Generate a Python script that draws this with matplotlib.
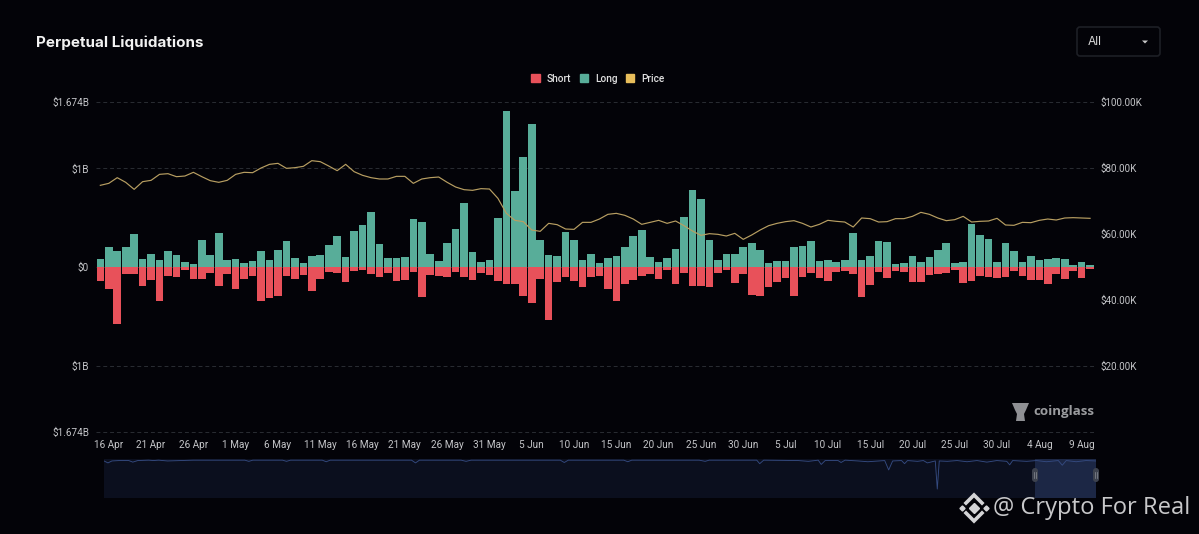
import matplotlib
matplotlib.use("Agg")
import matplotlib.pyplot as plt
from matplotlib.patches import FancyBboxPatch, Polygon, Rectangle, Patch
import numpy as np

# Daily values from 15 Apr to 10 Aug, $B
long_liq = [.077,.205,.165,.205,.337,.084,.128,.074,.158,.118,.051,.030,.279,.125,.343,.067,.081,.037,.057,.165,
            .071,.172,.266,.088,.044,.114,.118,.226,.310,.098,.370,.424,.562,.229,.094,.088,.098,.492,.455,.135,
            .057,.239,.384,.653,.152,.051,.074,.502,1.586,.768,1.121,1.455,.269,.121,.114,.354,.276,.067,.131,.040,
            .088,.114,.199,.310,.374,.098,.051,.091,.185,.508,.781,.694,.273,.067,.135,.128,.199,.246,.175,.044,
            .057,.057,.199,.209,.259,.061,.067,.047,.071,.340,.067,.114,.263,.256,.027,.037,.114,.047,.104,.172,
            .239,.040,.051,.441,.323,.286,.047,.242,.158,.051,.111,.067,.084,.088,.077,.017,.051,.024]
short_liq = [.145,.226,.582,.074,.074,.195,.135,.340,.088,.104,.030,.121,.118,.061,.195,.071,.219,.118,.091,.343,
             .316,.293,.094,.125,.084,.239,.118,.047,.064,.155,.044,.027,.067,.098,.061,.145,.131,.054,.306,.077,
             .088,.101,.054,.104,.128,.061,.077,.145,.168,.168,.296,.370,.125,.539,.148,.101,.138,.199,.101,.088,
             .222,.347,.175,.128,.094,.067,.121,.034,.175,.064,.192,.195,.205,.057,.034,.162,.067,.279,.296,.205,
             .148,.108,.296,.098,.061,.111,.145,.051,.044,.067,.303,.185,.051,.114,.044,.047,.155,.155,.084,.067,
             .064,.034,.162,.145,.088,.101,.111,.104,.037,.091,.128,.135,.168,.067,.118,.044,.114,.024]
# Price, $K
price = [74.75,75.35,77.07,75.66,73.53,75.86,76.26,78.08,78.28,77.37,77.57,78.69,77.37,76.16,75.66,76.26,78.08,78.69,78.58,80.0,
         81.11,81.41,79.9,80.1,80.5,82.22,81.92,80.6,79.19,81.11,78.89,77.78,77.07,76.67,76.67,77.47,77.47,75.35,76.67,77.07,
         77.27,75.66,74.24,73.43,73.23,73.74,73.63,70.81,66.26,64.14,63.74,61.21,60.81,63.23,62.83,61.51,61.41,63.53,63.53,64.54,
         65.96,66.26,65.66,64.54,62.93,63.53,64.14,63.23,63.94,62.52,60.91,59.59,60.1,59.9,59.39,60.2,58.38,59.7,61.21,62.52,
         63.23,63.74,64.04,63.23,62.12,62.93,64.14,63.84,63.63,62.12,64.85,64.65,63.63,63.74,64.65,64.65,65.35,66.56,65.96,64.85,
         64.04,64.34,65.35,63.63,63.84,63.94,64.75,62.73,62.63,63.53,63.43,64.14,64.54,64.24,64.85,64.95,64.85,64.75]
date_labels = ["16 Apr","21 Apr","26 Apr","1 May","6 May","11 May","16 May","21 May","26 May","31 May","5 Jun","10 Jun",
               "15 Jun","20 Jun","25 Jun","30 Jun","5 Jul","10 Jul","15 Jul","20 Jul","25 Jul","30 Jul","4 Aug","9 Aug"]
left_ticks = [-1.674, -1, 0, 1, 1.674]
left_labels = ["$1.674B", "$1B", "$0", "$1B", "$1.674B"]
right_ticks = [20, 40, 60, 80, 100]
right_labels = ["$20.00K", "$40.00K", "$60.00K", "$80.00K", "$100.00K"]
# Overview strip: position along full history (%) and level (%)
nav_pos = [0,.4,.8,1.5,2.5,2.9,3.4,4.5,5,5.5,6.4,9,14.2,14.6,15,18,18.4,18.8,22,22.4,22.8,31,31.4,31.8,36,36.5,37,
           46,46.4,46.8,52.4,52.8,53.2,60,60.6,61,65.8,66.1,66.5,70,71,72,72.3,72.7,74,74.3,74.7,76,77,78.7,79.1,79.5,
           80.4,80.7,81,82,82.6,83,83.8,84,84.2,85,86,87,88,89,90,91,91.3,91.6,93,94,95,96.2,96.6,97,98,99,100]
nav_level = [95,90,95,96,96,92,96,97,96,97,95,97,97,94,97,97,94,97,97,93,97,97,90,97,97,94,97,
             97,91,97,97,93,97,97,94,97,97,88,97,96,94,97,86,96,96,91,97,95,93,96,72,95,
             96,88,96,94,96,90,95,23,95,94,96,93,96,92,96,94,85,96,94,96,93,96,84,96,93,96,95]

BG = "#030308"
TEXT = "#c4c5c8"
GREEN = "#58ad99"
RED = "#e8515a"
GOLD = "#e8be5b"
GRID = "#2a2d33"
plt.rcParams["font.family"] = "Roboto"

fig = plt.figure(figsize=(11.99, 5.34), dpi=100, facecolor=BG)

# page furniture in pixel coordinates
page = fig.add_axes([0, 0, 1, 1], zorder=0)
page.set_xlim(0, 1199)
page.set_ylim(534, 0)
page.axis("off")
page.add_patch(Rectangle((104, 459), 992, 39, fc="#0b0f1e", ec="none"))
page.add_patch(Rectangle((1035, 459), 61, 39, fc="#1c2745", ec="none"))
page.add_patch(FancyBboxPatch((1077, 27), 83, 29, boxstyle="round,pad=0,rounding_size=3", fc=BG, ec="#1d1f25", lw=1.2))
page.add_patch(Polygon([[1142, 40.5], [1148, 40.5], [1145, 43.5]], fc="#c8c8c8", ec="none"))
page.text(36, 42.5, "Perpetual Liquidations", fontsize=10.9, fontweight="bold", family="Inter", color="#f2f2f2", va="center")
page.text(1088, 42, "All", fontsize=8.6, color="#d8d8d8", va="center", family="Inter")

# main chart
x = np.arange(len(long_liq))
ax = fig.add_axes([95.5 / 1199, 102 / 534, 1000.5 / 1199, 330 / 534], zorder=2)
ax.patch.set_visible(False)
ax.bar(x, long_liq, width=0.9, color=GREEN, zorder=3)
ax.bar(x, -np.array(short_liq), width=0.9, color=RED, zorder=3)
ax.set_xlim(-0.57, 117.7)
ax.set_ylim(-1.674, 1.674)
ax.set_yticks(left_ticks)
ax.set_yticklabels(left_labels)
ax.set_xticks(x[1::5])
ax.set_xticklabels(date_labels)
ax.grid(axis="y", color=GRID, linestyle=(0, (4, 3)), linewidth=0.7, zorder=1)
for line in ax.get_ygridlines():
    line.set_clip_on(False)
ax.tick_params(axis="both", length=0, labelsize=7.2, labelcolor=TEXT)
ax.tick_params(axis="y", pad=4.5)
ax.tick_params(axis="x", pad=6)
for s in ax.spines.values():
    s.set_visible(False)

ax2 = ax.twinx()
ax2.plot(x, price, color="#b89f62", linewidth=0.85, zorder=4)
ax2.set_ylim(0, 100)
ax2.set_yticks(right_ticks)
ax2.set_yticklabels(right_labels)
ax2.tick_params(axis="y", length=0, labelsize=7.1, labelcolor=TEXT, pad=3.5)
for s in ax2.spines.values():
    s.set_visible(False)

handles = [Patch(color=RED, label="Short"), Patch(color=GREEN, label="Long"), Patch(color=GOLD, label="Price")]
fig.legend(handles=handles, loc="center", bbox_to_anchor=(598 / 1199, 1 - 78.5 / 534), ncol=3, frameon=False,
           prop={"size": 7.3, "weight": "medium"}, labelcolor="#e0e0e0", handlelength=0.85, handleheight=0.85,
           handletextpad=0.7, columnspacing=0.8)

# overview strip
nav = fig.add_axes([104 / 1199, (534 - 498) / 534, 992 / 1199, 39 / 534], zorder=3)
nav.patch.set_visible(False)
nav.plot(nav_pos, nav_level, color="#344a80", linewidth=0.65)
nav.set_xlim(0, 100)
nav.set_ylim(0, 100)
nav.axis("off")

# slider handles, watermarks
top = fig.add_axes([0, 0, 1, 1], zorder=5)
top.set_xlim(0, 1199)
top.set_ylim(534, 0)
top.axis("off")
for hx in [1035, 1096]:
    top.add_patch(FancyBboxPatch((hx - 3, 468), 6, 14, boxstyle="round,pad=0,rounding_size=3", fc="#3d424e", ec="none"))
    top.plot([hx - 0.7, hx - 0.7], [472, 478], color="#8a8d95", lw=0.5)
    top.plot([hx + 0.7, hx + 0.7], [472, 478], color="#8a8d95", lw=0.5)
top.add_patch(Polygon([[1012, 403], [1029, 403], [1026, 410], [1024, 414], [1025, 421], [1016, 421], [1017, 414], [1015, 410]],
                      fc="#8f9094", ec="none"))
top.text(1033, 411, "coinglass", fontsize=9.6, fontweight="bold", family="Open Sans", color="#9b9c9f", va="center")
logo = "#d4d4d6"
top.plot([966, 974, 982], [503, 495, 503], color=logo, lw=2.6, solid_joinstyle="miter")
top.plot([966, 974, 982], [513, 521, 513], color=logo, lw=2.6, solid_joinstyle="miter")
top.plot([974], [508], marker="D", ms=4.6, color=logo)
top.plot([962, 986], [508, 508], marker="D", ms=2.6, color=logo, ls="none")
top.text(993, 508.5, "@ Crypto For Real", fontsize=17.1, family="Open Sans", color="#c8c8ca", va="center")

fig.savefig("out.png", dpi=100, facecolor=BG)
